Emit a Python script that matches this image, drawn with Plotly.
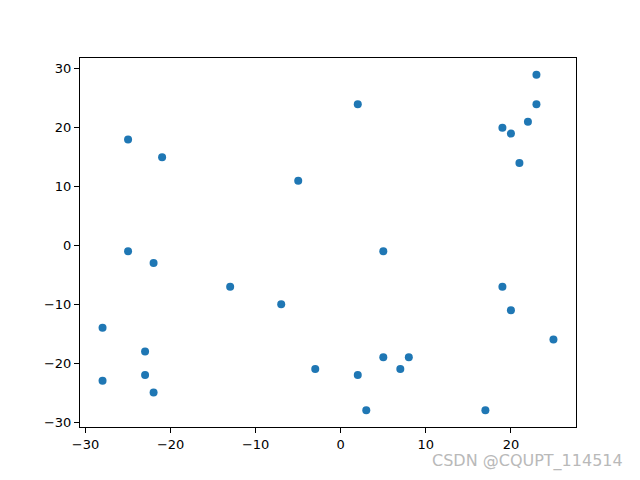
import plotly.graph_objects as go

x_vals = [23, 23, 22, 19, 20, 21, 2, -5, -25, -21, -25, -22, 5, -13, -7,
          19, 20, 25, -28, -23, -23, -28, -22, -3, 2, 5, 8, 7, 3, 17]
y_vals = [29, 24, 21, 20, 19, 14, 24, 11, 18, 15, -1, -3, -1, -7, -10,
          -7, -11, -16, -14, -18, -22, -23, -25, -21, -22, -19, -19, -21, -28, -28]

x_ticks = [-30, -20, -10, 0, 10, 20]
y_ticks = [-30, -20, -10, 0, 10, 20, 30]

fig = go.Figure(go.Scatter(
    x=x_vals, y=y_vals, mode="markers",
    marker=dict(color="#1f77b4", size=8),
))

axis_style = dict(
    showgrid=False, zeroline=False, showline=True, linecolor="black",
    linewidth=1, mirror=True, ticks="outside", ticklen=5, tickcolor="black",
    tickfont=dict(size=13, color="black"),
)

# page offsets the plot by 8px, so margins are trimmed to match
fig.update_layout(
    width=640, height=480,
    margin=dict(l=72, r=72, t=50, b=61),
    paper_bgcolor="white", plot_bgcolor="white",
    font=dict(family="DejaVu Sans"),
    showlegend=False,
    xaxis=dict(range=[-30.65, 27.65], tickvals=x_ticks, **axis_style),
    yaxis=dict(range=[-30.85, 31.85], tickvals=y_ticks, **axis_style),
    annotations=[dict(
        text="CSDN @CQUPT_114514", xref="paper", yref="paper",
        x=1.0, y=0.0, xanchor="right", yanchor="middle",
        xshift=49, yshift=-34,
        showarrow=False, font=dict(size=16, color="rgb(185,185,185)"),
    )],
)

fig.write_html("out.html")
